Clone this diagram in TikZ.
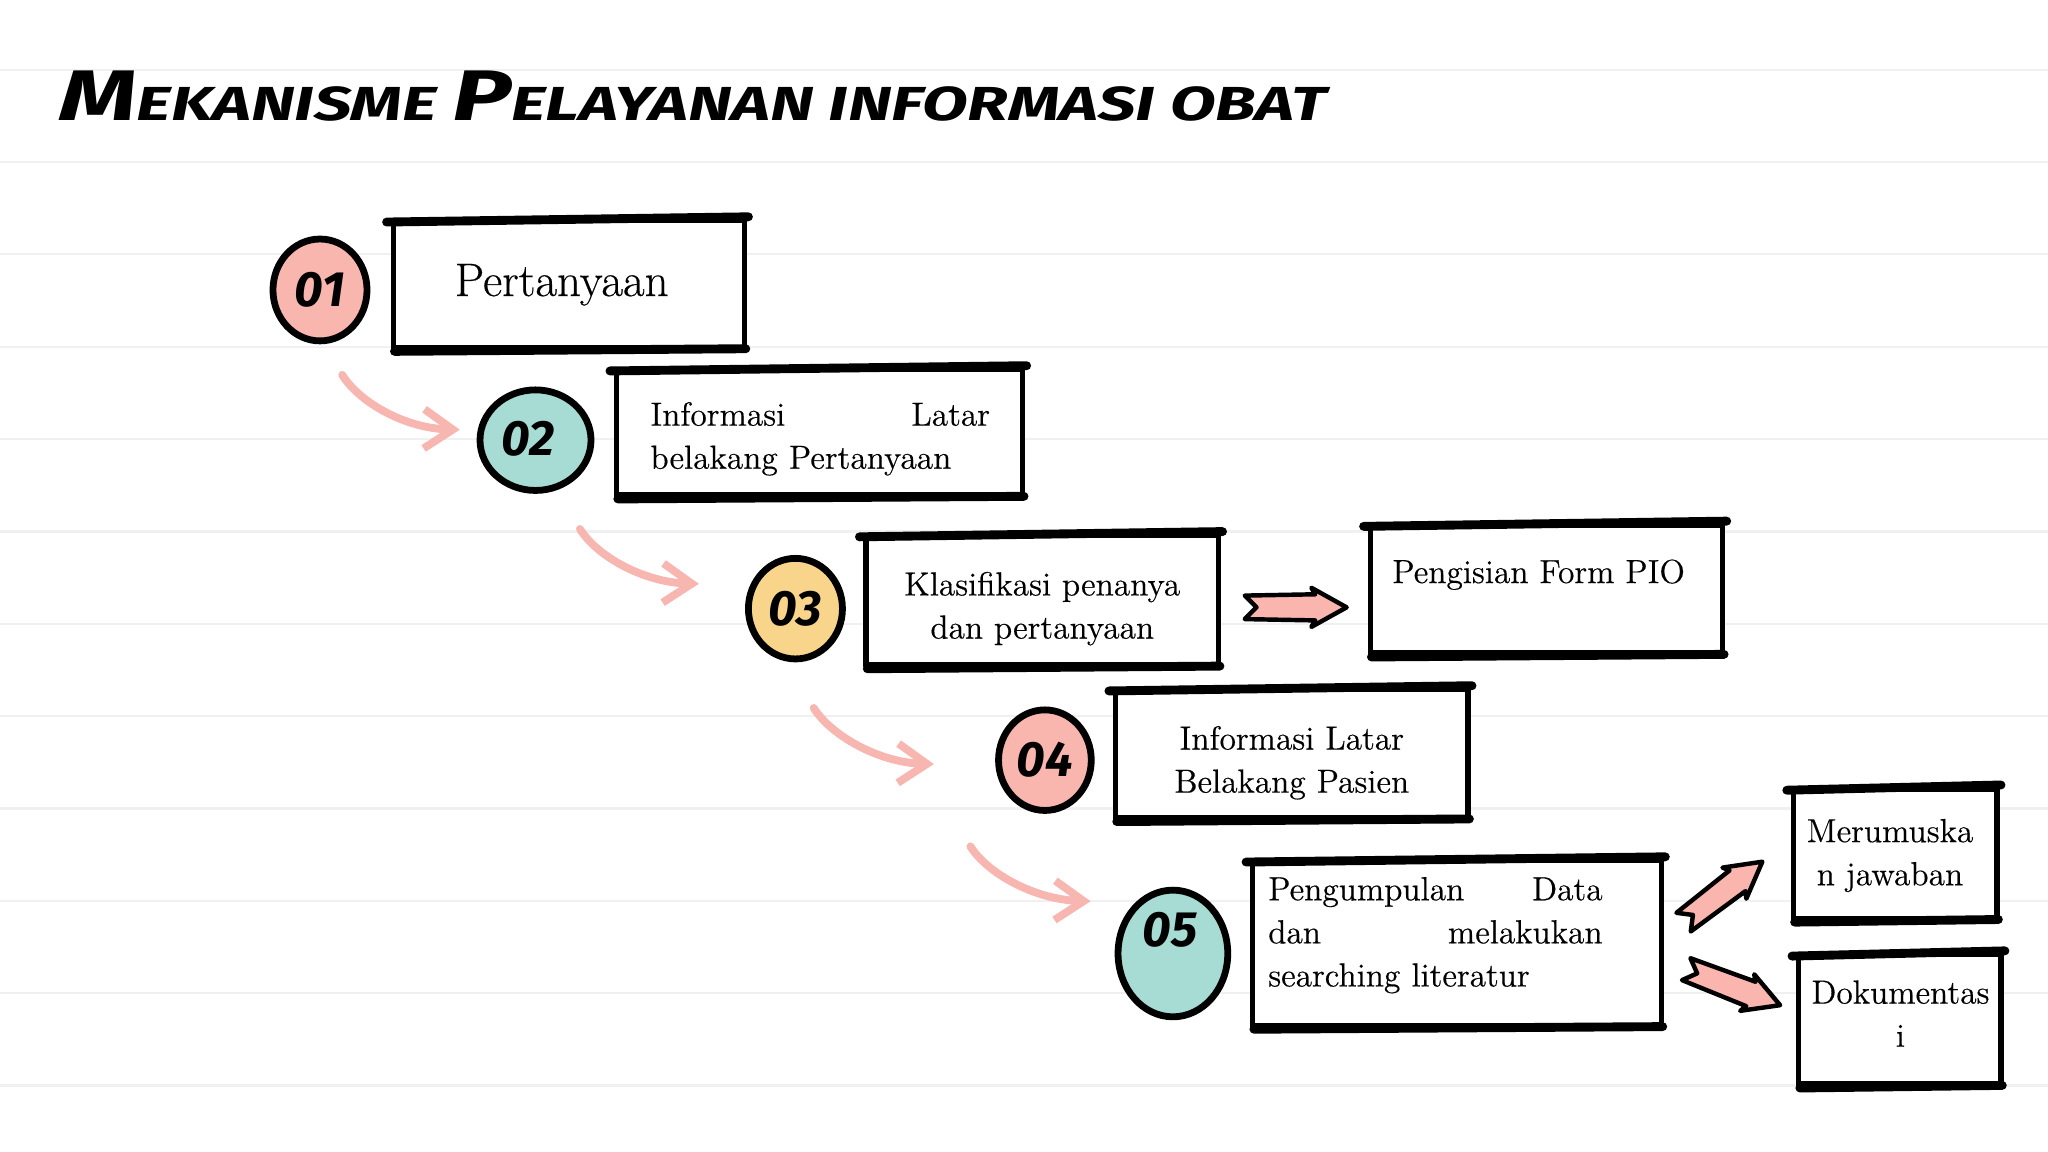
\documentclass[tikz,border=0pt]{standalone}
\usepackage{fontspec}
\usepackage{graphicx}
\usetikzlibrary{shapes.geometric,arrows.meta,calc}
\setmainfont{Latin Modern Roman}[FakeBold=0.4]
\newfontfamily\handfont{Fira Sans}
\definecolor{pinkC}{HTML}{F9B6AF}
\definecolor{tealC}{HTML}{A6DCD3}
\definecolor{yellowC}{HTML}{F9D58B}
\definecolor{arrowpink}{HTML}{F7B6B0}
\definecolor{arrowfill}{HTML}{F9B5AE}
\definecolor{linegray}{HTML}{F0F0F2}
\tikzset{
  fatarrow/.pic={
    \draw[draw=black, fill=arrowfill, line width=1.7pt, line join=round]
      (0,-9) -- ({#1-24},-10) -- ({#1-27},-15) -- (#1,0) -- ({#1-27},15) -- ({#1-24},10) -- (0,9) -- (9,0) -- cycle;
  }
}
\begin{document}
\begin{tikzpicture}[x=0.5pt,y=-0.5pt,
  box/.style={draw, line width=2pt, inner sep=0pt, fill=white},
  boxedge/.style={line width=3.4pt, line cap=round},
  numcirc/.style={ellipse, draw, line width=2.6pt, inner sep=0pt, font=\handfont\bfseries\itshape\fontsize{19}{19}\selectfont},
  bodytext/.style={font=\fontsize{12.8}{16.5}\selectfont, inner sep=0pt},
  curvearrow/.style={draw=arrowpink, line width=3pt, line cap=round, line join=round, -{Straight Barb[length=11pt,width=15pt]}},
  bgline/.style={draw=linegray, line width=0.8pt}
]
\fill[white] (0,0) rectangle (1568,882);
\useasboundingbox (0,0) rectangle (1568,882);
\foreach \k in {0,...,11} \draw[bgline] (0,{53.4+70.7*\k}) -- (1568,{53.4+70.7*\k});

% title
\node[anchor=base west, inner sep=0pt] (title) at (45,92)
  {\resizebox{485pt}{19pt}{\handfont\bfseries\itshape\fontsize{18}{18}\selectfont{\fontsize{27}{27}\selectfont M}EKANISME {\fontsize{27}{27}\selectfont P}ELAYANAN INFORMASI OBAT}};

% boxes
\node[box, minimum width=134.5pt, minimum height=48.5pt] (b1) at (435.5,217.5) {};
\node[box, minimum width=155.5pt, minimum height=48pt] (b2) at (627.5,331) {};
\node[box, minimum width=135pt, minimum height=49.5pt] (b3) at (798,459.5) {};
\node[box, minimum width=135pt, minimum height=49pt] (b3b) at (1184,451) {};
\node[box, minimum width=135pt, minimum height=49pt] (b4) at (989,577) {};
\node[box, minimum width=156.5pt, minimum height=63pt] (b5) at (1115.5,722) {};
\node[box, minimum width=78pt, minimum height=49.5pt] (b6) at (1451,653.5) {};
\node[box, minimum width=77.5pt, minimum height=49.5pt] (b7) at (1454.5,780.5) {};

% thicker hand-drawn top and bottom edges
\foreach \b in {b1,b2,b3,b3b,b4,b5,b6,b7}{
  \draw[boxedge] ($(\b.north west)+(-3,3)$) -- ($(\b.north east)+(1,-1)$);
  \draw[boxedge] ($(\b.south west)+(3,1)$) -- ($(\b.south east)+(-1,-1)$);
}

% texts
\node[bodytext, font=\fontsize{18}{22}\selectfont] (t1) at (430,218) {Pertanyaan};
\node[bodytext, text width=130pt, align=left] (t2) at (628,336) {Informasi\hfill Latar\\belakang Pertanyaan};
\node[bodytext, align=center] (t3) at (798,466) {Klasifikasi penanya\\dan pertanyaan};
\node[bodytext] (t3b) at (1178,440) {Pengisian Form PIO};
\node[bodytext, align=center] (t4) at (989,584) {Informasi Latar\\Belakang Pasien};
\node[bodytext, text width=128pt, align=left] (t5) at (1099,716) {Pengumpulan\hfill Data\\dan\hfill melakukan\\searching literatur};
\node[bodytext, align=center] (t6) at (1447,655) {Merumuska\\n jawaban};
\node[bodytext, align=center] (t7) at (1455,776) {Dokumentas\\i};

% number circles
\node[numcirc, fill=pinkC, minimum width=36pt, minimum height=39pt] (c1) at (245,222) {01};
\node[numcirc, fill=tealC, minimum width=42.5pt, minimum height=38.5pt] (c2) at (410,337) {};
\node[inner sep=0pt, font=\handfont\bfseries\itshape\fontsize{19}{19}\selectfont] (n2) at (404,336) {02};
\node[numcirc, fill=yellowC, minimum width=36pt, minimum height=38.5pt] (c3) at (609,466) {03};
\node[numcirc, fill=pinkC, minimum width=35.5pt, minimum height=38.5pt] (c4) at (800,582) {04};
\node[numcirc, fill=tealC, minimum width=42pt, minimum height=48.5pt] (c5) at (898,730) {};
\node[inner sep=0pt, font=\handfont\bfseries\itshape\fontsize{19}{19}\selectfont] (n5) at (896,712) {05};

% curved arrows
\draw[curvearrow] ($(c1.center)+(17,65)$) .. controls +(13,21) and +(-42,-1) .. ($(c2.center)+(-58,-8)$);
\draw[curvearrow] ($(c2.center)+(34,68)$) .. controls +(13,21) and +(-42,-1) .. ($(c3.center)+(-74,-19)$);
\draw[curvearrow] ($(c3.center)+(14,76)$) .. controls +(13,21) and +(-42,-1) .. ($(c4.center)+(-85,3)$);
\draw[curvearrow] ($(c4.center)+(-57,66)$) .. controls +(13,21) and +(-42,-1) .. ($(c5.center)+(-63,-40)$);

% block arrows
\pic at ($(b3.east)+(18,5.5)$) {fatarrow=78};
\pic[rotate=37.5] at ($(b5.east)+(15,-16)$) {fatarrow=76};
\pic[rotate=-21] at ($(b5.east)+(17,20)$) {fatarrow=77};
\end{tikzpicture}
\end{document}
